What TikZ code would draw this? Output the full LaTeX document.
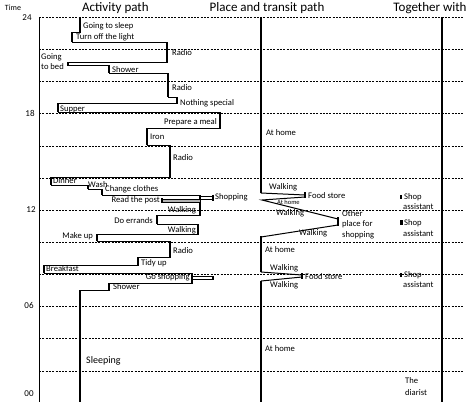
\documentclass[tikz,border=0pt]{standalone}
\usepackage{fontspec}
\setmainfont{Carlito}
\begin{document}
\begin{tikzpicture}[x=1pt,y=-1pt,
  lbl/.style={inner sep=0pt, font=\fontsize{8.6}{9}\selectfont},
  lblr/.style={lbl, anchor=east},
  lbll/.style={lbl, anchor=west},
  small/.style={inner sep=0pt, anchor=west, font=\fontsize{6.5}{7}\selectfont},
  head/.style={inner sep=0pt, font=\fontsize{13}{14}\selectfont},
  num/.style={inner sep=0pt, font=\fontsize{9}{10}\selectfont},
  thickv/.style={line width=2.4pt},
  markv/.style={line width=2pt},
  thinh/.style={line width=1pt},
  gridline/.style={line width=0.8pt, dash pattern=on 2pt off 1.3pt}]
\useasboundingbox[fill=white] (0,0) rectangle (474,402);

% grid and axis
\foreach \yy in {17,49,81,113,146,178,210,242,274,306,338,371}
  \draw[gridline] (39,\yy) -- (463,\yy);
\draw[line width=0.8pt] (39,17) -- (39,402);

% headings
\node[lbl, font=\fontsize{8}{9}\selectfont] (time) at (13,8) {Time};
\node[head, anchor=west] (hact) at (82,8) {Activity path};
\node[head] (hplace) at (267,8) {Place and transit path};
\node[head] (htog) at (430,8) {Together with};

\node[num] (n24) at (27,18) {24};
\node[num] (n18) at (30,113) {18};
\node[num] (n12) at (31,210) {12};
\node[num] (n06) at (29,305) {06};
\node[num] (n00) at (29,394) {00};

% activity path
\draw[thinh] (80,17)--(80,32)--(72,32)--(72,42)--(167,42)--(167,62)--(68,62)--(68,65)--(109,65)--(109,73)--(168,73)--(168,97)--(177,97)--(177,103)--(58,103)--(58,112)--(220,112)--(220,128)--(147,128)--(147,145)--(170,145)--(170,177)--(51,177)--(51,185)--(88,185)--(88,189)--(102,189)--(102,195)--(200,195)--(200,215)--(157,215)--(157,224)--(198,224)--(198,234)--(97,234)--(97,241)--(170,241)--(170,257)--(138,257)--(138,265)--(44,265)--(44,273)--(192,273)--(192,283)--(109,283)--(109,290)--(80,290)--(80,402);
\foreach \xx/\ya/\yb in {80/17/32, 72/32/42, 167/42/62, 68/62/66, 109/65/73, 168/73/97, 177/97/103, 58/103/112, 220/112/128, 147/128/145, 170/145/177, 51/177/185, 88/185/189, 102/189/195, 200/196/215, 157/215/224, 198/224/234, 97/234/241, 170/241/257, 138/257/265, 44/265/273, 192/274/283, 109/283/290, 80/290/402}
  \draw[thickv] (\xx,\ya) -- (\xx,\yb);
% excursions
\draw[line width=0.8pt] (200,196.5) rectangle (213,199.5);
\draw[markv] (213,194.5) -- (213,200.5);
\draw[line width=0.8pt, fill=gray!60] (162,199) rectangle (200,202);
\draw[markv] (162,198) -- (162,203);
\draw[line width=0.8pt] (192,276.5) rectangle (213,279.5);
\draw[markv] (213,276) -- (213,280);

% activity labels
\node[lbll] (a1) at (83,26) {Going to sleep};
\node[lbll] (a2) at (76,37) {Turn off the light};
\node[lbll] (a3) at (172,53) {Radio};
\node[lbll] (a4) at (41,57) {Going};
\node[lbll] (a5) at (41,67) {to bed};
\node[lbll] (a6) at (112,70) {Shower};
\node[lbll] (a7) at (172,88) {Radio};
\node[lbll] (a8) at (180,103) {Nothing special};
\node[lbll] (a9) at (60,109) {Supper};
\node[lblr] (a10) at (217,122) {Prepare a meal};
\node[lbll] (a11) at (150,137) {Iron};
\node[lbll] (a12) at (173,158) {Radio};
\node[lbll] (a13) at (53,181) {Dinner};
\node[lbll] (a14) at (88,184.5) {Wash};
\node[lbll] (a15) at (105,189.5) {Change clothes};
\node[lblr] (a16) at (160,200) {Read the post};
\node[lbll] (a17) at (215,197) {Shopping};
\node[lblr] (a18) at (196,210) {Walking};
\node[lblr] (a19) at (153,221) {Do errands};
\node[lblr] (a20) at (196,230.5) {Walking};
\node[lblr] (a21) at (93,236) {Make up};
\node[lbll] (a22) at (173,251) {Radio};
\node[lbll] (a23) at (141,263) {Tidy up};
\node[lbll] (a24) at (46,269) {Breakfast};
\node[lblr] (a25) at (190,277) {Go shopping};
\node[lbll] (a26) at (113,287) {Shower};
\node[lbll, font=\fontsize{10}{11}\selectfont] (a27) at (86,361) {Sleeping};

% place and transit path
\draw[thickv] (261,17) -- (261,193);
\draw[thinh] (261,193) -- (305,195);
\draw[markv] (305,192) -- (305,198);
\draw[thinh] (305,197) -- (262,200) -- (338,219);
\draw[markv] (338,217) -- (338,226);
\draw[thinh] (338,225) -- (261,237);
\draw[thickv] (261,236) -- (261,272);
\draw[thinh] (261,272) -- (302,275);
\draw[markv] (302,273) -- (302,279);
\draw[thinh] (302,277) -- (261,281);
\draw[thickv] (261,281) -- (261,402);

\node[lbll] (p1) at (266,133) {At home};
\node[lbll] (p2) at (269,187) {Walking};
\node[lbll] (p3) at (308,196) {Food store};
\node[small] (p4) at (277,202) {At home};
\node[lbll] (p5) at (276,213) {Walking};
\node[lbll] (p6) at (342,214) {Other};
\node[lbll] (p7) at (342,224) {place for};
\node[lbll] (p8) at (342,235) {shopping};
\node[lbll] (p9) at (299,233) {Walking};
\node[lbll] (p10) at (265,250) {At home};
\node[lbll] (p11) at (270,268) {Walking};
\node[lbll] (p12) at (305,277) {Food store};
\node[lbll] (p13) at (270,285) {Walking};
\node[lbll] (p14) at (265,349) {At home};

% together with
\draw[thickv] (442,17) -- (442,402);
\fill (400,195) rectangle (402,199);
\fill (399.5,220) rectangle (402.5,225);
\fill (400,273) rectangle (402,277);
\node[lbll] (t1) at (404,197) {Shop};
\node[lbll] (t2) at (403,207) {assistant};
\node[lbll] (t3) at (404,223) {Shop};
\node[lbll] (t4) at (403,233.5) {assistant};
\node[lbll] (t5) at (404,275) {Shop};
\node[lbll] (t6) at (403,285) {assistant};
\node[lbll] (t7) at (405,381) {The};
\node[lbll] (t8) at (405,393) {diarist};
\end{tikzpicture}
\end{document}
